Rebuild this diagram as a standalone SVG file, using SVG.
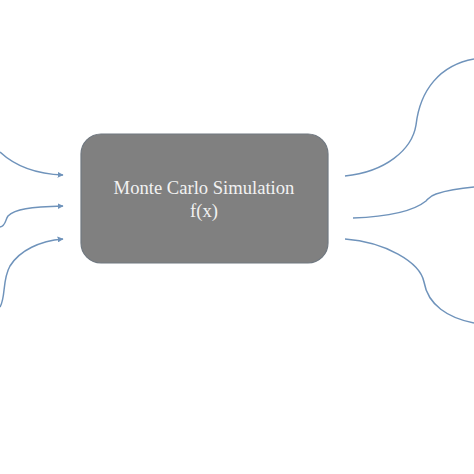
<svg xmlns="http://www.w3.org/2000/svg" width="474" height="474" viewBox="0 0 474 474">
<style>
.c{fill:none;stroke:#6f93bb;stroke-width:1.5}
.t{font-family:"Liberation Serif",serif;font-size:18.6px;fill:#f2f2f2;text-anchor:middle}
</style>
<defs>
<marker id="ah" viewBox="0 0 10 10" refX="9" refY="5" markerWidth="4" markerHeight="4" orient="auto" markerUnits="strokeWidth">
<path d="M0,0 L10,5 L0,10 z" fill="#6f93bb"/>
</marker>
</defs>
<rect width="474" height="474" fill="#ffffff"/>
<g id="connectors">
<path class="c" marker-end="url(#ah)" d="M0,152 C15,166 35,174 63,175"/>
<path class="c" marker-end="url(#ah)" d="M0,227 C6,226 5,220 8,216 C15,209 30,207 63,206"/>
<path class="c" marker-end="url(#ah)" d="M0,307 C6,297 2,280 10,266 C20,250 40,241 63,239"/>
<path class="c" d="M345,176 C385,172 412,150 416,125 C420,90 440,65 474,59"/>
<path class="c" d="M353,218 C380,217 410,214 426,201 C430,197 430,196 436,194 C448,190 462,188 474,187"/>
<path class="c" d="M345,239 C385,242 420,262 424,282 C428,305 448,318 474,323"/>
</g>
<g id="node-mc">
<rect x="81" y="134" width="247" height="129" rx="20" ry="20" fill="#808080" stroke="#707880" stroke-width="1.2"/>
<text class="t" x="204" y="194">Monte Carlo Simulation</text>
<text class="t" x="204" y="217">f(x)</text>
</g>
</svg>
